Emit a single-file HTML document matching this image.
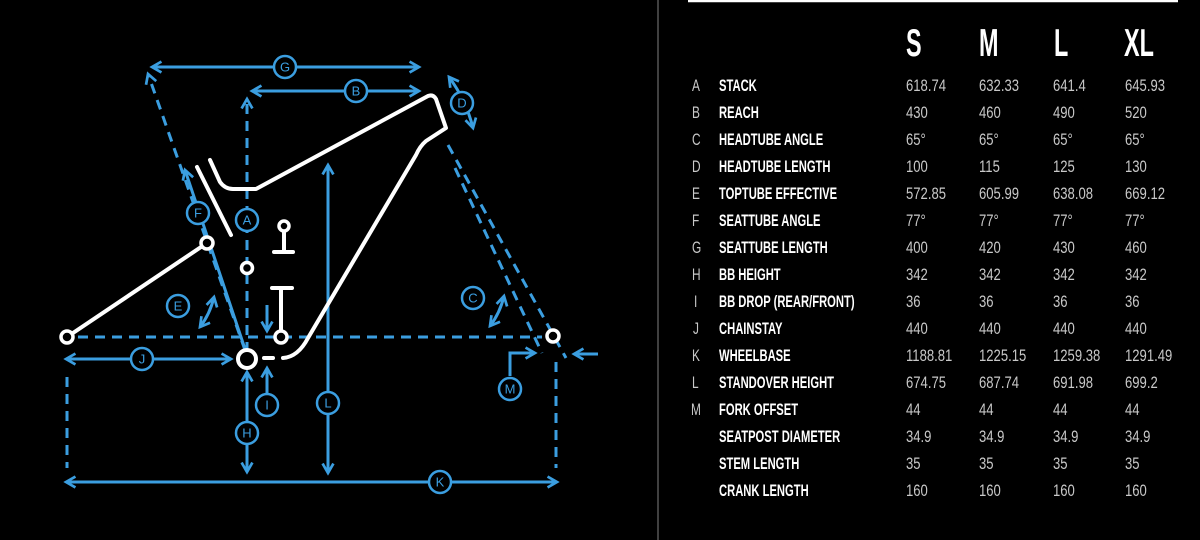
<!DOCTYPE html>
<html><head><meta charset="utf-8"><style>
html,body{margin:0;padding:0;background:#000;}
svg{display:block}
.b{fill:none;stroke:#3b9ee0;stroke-width:3;stroke-linecap:butt}
.d{stroke-dasharray:10 7}
.w{fill:none;stroke:#fff;stroke-width:4;stroke-linecap:round;stroke-linejoin:round}
.c{fill:#000;stroke:#3b9ee0;stroke-width:2.5}
.ct{fill:#3b9ee0;font-family:"Liberation Sans",sans-serif;font-size:13px;font-weight:normal;text-anchor:middle}
.h{fill:#fff;font-family:"Liberation Sans",sans-serif;font-weight:bold;font-size:39px}
.l{fill:#fff;font-family:"Liberation Sans",sans-serif;font-weight:bold;font-size:17px}
.v{fill:#c8c8c8;font-family:"Liberation Sans",sans-serif;font-size:17px}
</style></head><body>
<svg width="1200" height="540" viewBox="0 0 1200 540" xmlns="http://www.w3.org/2000/svg">
<defs>
<marker id="a" viewBox="0 0 10 10" refX="8" refY="5" markerWidth="4.5" markerHeight="4.5" orient="auto-start-reverse" markerUnits="strokeWidth">
<path d="M1 1 L8 5 L1 9" fill="none" stroke="#3b9ee0" stroke-width="2"/>
</marker>
</defs>
<rect width="1200" height="540" fill="#000"/>
<line x1="658" y1="0" x2="658" y2="540" stroke="#555" stroke-width="1.5"/>
<line x1="688" y1="1" x2="1178" y2="1" stroke="#fff" stroke-width="2.5"/>

<line class="b" x1="152" y1="67" x2="419" y2="67" marker-start="url(#a)" marker-end="url(#a)"/>
<line class="b" x1="252" y1="91" x2="419" y2="91" marker-start="url(#a)" marker-end="url(#a)"/>
<line class="b d" x1="247" y1="352" x2="247" y2="99" marker-end="url(#a)"/>
<line class="b d" x1="245" y1="350" x2="148" y2="74" marker-end="url(#a)"/>
<line class="b" x1="246" y1="352" x2="185" y2="170" marker-end="url(#a)"/>
<line class="b d" x1="78" y1="337" x2="542" y2="337"/>
<line class="b" x1="66" y1="359" x2="231" y2="359" marker-start="url(#a)" marker-end="url(#a)"/>
<line class="b" x1="247" y1="372" x2="247" y2="472" marker-start="url(#a)" marker-end="url(#a)"/>
<line class="b" x1="267" y1="396" x2="267" y2="368" marker-end="url(#a)"/>
<line class="b" x1="267" y1="305" x2="267" y2="331" marker-end="url(#a)"/>
<line class="b" x1="328" y1="165" x2="328" y2="473" marker-start="url(#a)" marker-end="url(#a)"/>
<line class="b" x1="66" y1="482" x2="557" y2="482" marker-start="url(#a)" marker-end="url(#a)"/>
<line class="b d" x1="67" y1="377" x2="67" y2="468"/>
<line class="b d" x1="556" y1="362" x2="556" y2="468"/>
<line class="b d" x1="448" y1="145" x2="566" y2="358"/>
<line class="b d" x1="455" y1="168" x2="542" y2="353"/>
<polyline class="b" points="510,376 510,353 535,353" marker-end="url(#a)"/>
<line class="b" x1="598" y1="354" x2="574" y2="354" marker-end="url(#a)"/>
<path class="b" d="M449 77 Q466 100 473 128" marker-start="url(#a)" marker-end="url(#a)"/>
<path class="b" d="M214 297 Q210 314 200 327" marker-start="url(#a)" marker-end="url(#a)"/>
<path class="b" d="M504 296 Q500 313 490 326" marker-start="url(#a)" marker-end="url(#a)"/>

<line class="w" x1="197" y1="167" x2="231" y2="235"/>
<path class="w" d="M210 160 L220 182 Q225 189 233 189 L256 189 L428 96 Q433 94 436 99 L446 128 L426 141 Q420 146 416 155 L308 338 Q298 357 283 358"/>
<line class="w" x1="264" y1="358" x2="273" y2="358"/>
<line class="w" x1="207" y1="243" x2="67" y2="337"/>
<line class="w" x1="284" y1="231" x2="284" y2="252"/><line class="w" x1="274" y1="252" x2="293" y2="252"/>
<line class="w" x1="272" y1="288" x2="292" y2="288"/><line class="w" x1="281" y1="288" x2="281" y2="331"/>
<g fill="#000" stroke="#fff" stroke-width="3.5">
<circle cx="67" cy="337" r="6"/><circle cx="207" cy="243" r="6"/><circle cx="247" cy="268" r="5.5"/>
<circle cx="284" cy="226" r="5"/><circle cx="281" cy="337" r="6"/><circle cx="553" cy="336" r="6"/>
<circle cx="247" cy="359" r="9" stroke-width="4"/>
</g>

<g>
<circle class="c" cx="285" cy="67" r="11"/><text class="ct" x="285" y="71.5">G</text>
<circle class="c" cx="356" cy="91" r="11"/><text class="ct" x="356" y="95.5">B</text>
<circle class="c" cx="247" cy="220" r="11"/><text class="ct" x="247" y="224.5">A</text>
<circle class="c" cx="198" cy="213" r="11"/><text class="ct" x="198" y="217.5">F</text>
<circle class="c" cx="462" cy="103" r="11"/><text class="ct" x="462" y="107.5">D</text>
<circle class="c" cx="178" cy="306" r="11"/><text class="ct" x="178" y="310.5">E</text>
<circle class="c" cx="473" cy="298" r="11"/><text class="ct" x="473" y="302.5">C</text>
<circle class="c" cx="142" cy="359" r="11"/><text class="ct" x="142" y="363.5">J</text>
<circle class="c" cx="247" cy="433" r="11"/><text class="ct" x="247" y="437.5">H</text>
<circle class="c" cx="267" cy="405" r="11"/><text class="ct" x="267" y="409.5">I</text>
<circle class="c" cx="328" cy="403" r="11"/><text class="ct" x="328" y="407.5">L</text>
<circle class="c" cx="510" cy="389" r="11"/><text class="ct" x="510" y="393.5">M</text>
<circle class="c" cx="440" cy="482" r="11"/><text class="ct" x="440" y="486.5">K</text>
</g>

<text class="h" transform="translate(906,56) scale(0.6,1)">S</text>
<text class="h" transform="translate(979,56) scale(0.6,1)">M</text>
<text class="h" transform="translate(1054,56) scale(0.6,1)">L</text>
<text class="h" transform="translate(1124,56) scale(0.6,1)">XL</text>

<g id="rows">
<text class="v" transform="translate(692,91) scale(0.7,1)">A</text><text class="l" transform="translate(719,91) scale(0.66,1)">STACK</text><text class="v" transform="translate(906,91) scale(0.77,1)">618.74</text><text class="v" transform="translate(979,91) scale(0.77,1)">632.33</text><text class="v" transform="translate(1053,91) scale(0.77,1)">641.4</text><text class="v" transform="translate(1125,91) scale(0.77,1)">645.93</text>
<text class="v" transform="translate(692,118) scale(0.7,1)">B</text><text class="l" transform="translate(719,118) scale(0.66,1)">REACH</text><text class="v" transform="translate(906,118) scale(0.77,1)">430</text><text class="v" transform="translate(979,118) scale(0.77,1)">460</text><text class="v" transform="translate(1053,118) scale(0.77,1)">490</text><text class="v" transform="translate(1125,118) scale(0.77,1)">520</text>
<text class="v" transform="translate(692,145) scale(0.7,1)">C</text><text class="l" transform="translate(719,145) scale(0.66,1)">HEADTUBE ANGLE</text><text class="v" transform="translate(906,145) scale(0.77,1)">65°</text><text class="v" transform="translate(979,145) scale(0.77,1)">65°</text><text class="v" transform="translate(1053,145) scale(0.77,1)">65°</text><text class="v" transform="translate(1125,145) scale(0.77,1)">65°</text>
<text class="v" transform="translate(692,172) scale(0.7,1)">D</text><text class="l" transform="translate(719,172) scale(0.66,1)">HEADTUBE LENGTH</text><text class="v" transform="translate(906,172) scale(0.77,1)">100</text><text class="v" transform="translate(979,172) scale(0.77,1)">115</text><text class="v" transform="translate(1053,172) scale(0.77,1)">125</text><text class="v" transform="translate(1125,172) scale(0.77,1)">130</text>
<text class="v" transform="translate(692,199) scale(0.7,1)">E</text><text class="l" transform="translate(719,199) scale(0.66,1)">TOPTUBE EFFECTIVE</text><text class="v" transform="translate(906,199) scale(0.77,1)">572.85</text><text class="v" transform="translate(979,199) scale(0.77,1)">605.99</text><text class="v" transform="translate(1053,199) scale(0.77,1)">638.08</text><text class="v" transform="translate(1125,199) scale(0.77,1)">669.12</text>
<text class="v" transform="translate(692,226) scale(0.7,1)">F</text><text class="l" transform="translate(719,226) scale(0.66,1)">SEATTUBE ANGLE</text><text class="v" transform="translate(906,226) scale(0.77,1)">77°</text><text class="v" transform="translate(979,226) scale(0.77,1)">77°</text><text class="v" transform="translate(1053,226) scale(0.77,1)">77°</text><text class="v" transform="translate(1125,226) scale(0.77,1)">77°</text>
<text class="v" transform="translate(692,253) scale(0.7,1)">G</text><text class="l" transform="translate(719,253) scale(0.66,1)">SEATTUBE LENGTH</text><text class="v" transform="translate(906,253) scale(0.77,1)">400</text><text class="v" transform="translate(979,253) scale(0.77,1)">420</text><text class="v" transform="translate(1053,253) scale(0.77,1)">430</text><text class="v" transform="translate(1125,253) scale(0.77,1)">460</text>
<text class="v" transform="translate(692,280) scale(0.7,1)">H</text><text class="l" transform="translate(719,280) scale(0.66,1)">BB HEIGHT</text><text class="v" transform="translate(906,280) scale(0.77,1)">342</text><text class="v" transform="translate(979,280) scale(0.77,1)">342</text><text class="v" transform="translate(1053,280) scale(0.77,1)">342</text><text class="v" transform="translate(1125,280) scale(0.77,1)">342</text>
<text class="v" transform="translate(694,307) scale(0.7,1)">I</text><text class="l" transform="translate(719,307) scale(0.66,1)">BB DROP (REAR/FRONT)</text><text class="v" transform="translate(906,307) scale(0.77,1)">36</text><text class="v" transform="translate(979,307) scale(0.77,1)">36</text><text class="v" transform="translate(1053,307) scale(0.77,1)">36</text><text class="v" transform="translate(1125,307) scale(0.77,1)">36</text>
<text class="v" transform="translate(693,334) scale(0.7,1)">J</text><text class="l" transform="translate(719,334) scale(0.66,1)">CHAINSTAY</text><text class="v" transform="translate(906,334) scale(0.77,1)">440</text><text class="v" transform="translate(979,334) scale(0.77,1)">440</text><text class="v" transform="translate(1053,334) scale(0.77,1)">440</text><text class="v" transform="translate(1125,334) scale(0.77,1)">440</text>
<text class="v" transform="translate(692,361) scale(0.7,1)">K</text><text class="l" transform="translate(719,361) scale(0.66,1)">WHEELBASE</text><text class="v" transform="translate(906,361) scale(0.77,1)">1188.81</text><text class="v" transform="translate(979,361) scale(0.77,1)">1225.15</text><text class="v" transform="translate(1053,361) scale(0.77,1)">1259.38</text><text class="v" transform="translate(1125,361) scale(0.77,1)">1291.49</text>
<text class="v" transform="translate(692,388) scale(0.7,1)">L</text><text class="l" transform="translate(719,388) scale(0.66,1)">STANDOVER HEIGHT</text><text class="v" transform="translate(906,388) scale(0.77,1)">674.75</text><text class="v" transform="translate(979,388) scale(0.77,1)">687.74</text><text class="v" transform="translate(1053,388) scale(0.77,1)">691.98</text><text class="v" transform="translate(1125,388) scale(0.77,1)">699.2</text>
<text class="v" transform="translate(691,415) scale(0.7,1)">M</text><text class="l" transform="translate(719,415) scale(0.66,1)">FORK OFFSET</text><text class="v" transform="translate(906,415) scale(0.77,1)">44</text><text class="v" transform="translate(979,415) scale(0.77,1)">44</text><text class="v" transform="translate(1053,415) scale(0.77,1)">44</text><text class="v" transform="translate(1125,415) scale(0.77,1)">44</text>
<text class="l" transform="translate(719,442) scale(0.66,1)">SEATPOST DIAMETER</text><text class="v" transform="translate(906,442) scale(0.77,1)">34.9</text><text class="v" transform="translate(979,442) scale(0.77,1)">34.9</text><text class="v" transform="translate(1053,442) scale(0.77,1)">34.9</text><text class="v" transform="translate(1125,442) scale(0.77,1)">34.9</text>
<text class="l" transform="translate(719,469) scale(0.66,1)">STEM LENGTH</text><text class="v" transform="translate(906,469) scale(0.77,1)">35</text><text class="v" transform="translate(979,469) scale(0.77,1)">35</text><text class="v" transform="translate(1053,469) scale(0.77,1)">35</text><text class="v" transform="translate(1125,469) scale(0.77,1)">35</text>
<text class="l" transform="translate(719,496) scale(0.66,1)">CRANK LENGTH</text><text class="v" transform="translate(906,496) scale(0.77,1)">160</text><text class="v" transform="translate(979,496) scale(0.77,1)">160</text><text class="v" transform="translate(1053,496) scale(0.77,1)">160</text><text class="v" transform="translate(1125,496) scale(0.77,1)">160</text>
</g>
</svg>
</body></html>
